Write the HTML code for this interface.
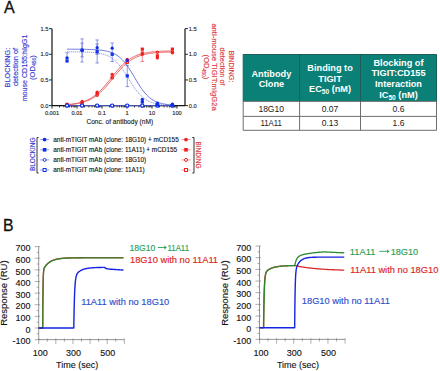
<!DOCTYPE html>
<html><head><meta charset="utf-8"><style>
html,body{margin:0;padding:0;background:#fff;width:440px;height:371px;overflow:hidden}
svg{display:block}
text{font-family:"Liberation Sans", sans-serif}
</style></head><body>
<svg width="440" height="371" viewBox="0 0 440 371">
<text x="4" y="12.9" font-size="16.0" fill="#111" text-anchor="start" font-weight="normal" stroke="#111" stroke-width="0.3" >A</text>
<text x="3" y="230.8" font-size="15.8" fill="#111" text-anchor="start" font-weight="normal" stroke="#111" stroke-width="0.3" >B</text>
<path d="M52.0,28.650000000000006 V106.1 M185.0,28.650000000000006 V106.1 M52.0,105.6 H185.0" stroke="#151515" stroke-width="1.2" fill="none"/>
<path d="M49.0,105.6 H52.0 M185.0,105.6 H188.0 M49.0,79.95 H52.0 M185.0,79.95 H188.0 M49.0,54.3 H52.0 M185.0,54.3 H188.0 M49.0,28.65 H52.0 M185.0,28.65 H188.0 M52,105.6 V108.6 M59.53,105.6 V107.39999999999999 M63.93,105.6 V107.39999999999999 M67.05,105.6 V107.39999999999999 M69.47,105.6 V107.39999999999999 M71.45,105.6 V107.39999999999999 M73.13,105.6 V107.39999999999999 M74.58,105.6 V107.39999999999999 M75.86,105.6 V107.39999999999999 M77,105.6 V108.6 M84.53,105.6 V107.39999999999999 M88.93,105.6 V107.39999999999999 M92.05,105.6 V107.39999999999999 M94.47,105.6 V107.39999999999999 M96.45,105.6 V107.39999999999999 M98.13,105.6 V107.39999999999999 M99.58,105.6 V107.39999999999999 M100.86,105.6 V107.39999999999999 M102,105.6 V108.6 M109.53,105.6 V107.39999999999999 M113.93,105.6 V107.39999999999999 M117.05,105.6 V107.39999999999999 M119.47,105.6 V107.39999999999999 M121.45,105.6 V107.39999999999999 M123.13,105.6 V107.39999999999999 M124.58,105.6 V107.39999999999999 M125.86,105.6 V107.39999999999999 M127,105.6 V108.6 M134.53,105.6 V107.39999999999999 M138.93,105.6 V107.39999999999999 M142.05,105.6 V107.39999999999999 M144.47,105.6 V107.39999999999999 M146.45,105.6 V107.39999999999999 M148.13,105.6 V107.39999999999999 M149.58,105.6 V107.39999999999999 M150.86,105.6 V107.39999999999999 M152,105.6 V108.6 M159.53,105.6 V107.39999999999999 M163.93,105.6 V107.39999999999999 M167.05,105.6 V107.39999999999999 M169.47,105.6 V107.39999999999999 M171.45,105.6 V107.39999999999999 M173.13,105.6 V107.39999999999999 M174.58,105.6 V107.39999999999999 M175.86,105.6 V107.39999999999999 M177,105.6 V108.6" stroke="#151515" stroke-width="0.9" fill="none"/>
<text x="48.4" y="107.6" font-size="5.7" fill="#222" text-anchor="end" font-weight="normal" stroke="#222" stroke-width="0.12" >0.0</text>
<text x="188.8" y="107.6" font-size="5.7" fill="#222" text-anchor="start" font-weight="normal" stroke="#222" stroke-width="0.12" >0.0</text>
<text x="48.4" y="81.95" font-size="5.7" fill="#222" text-anchor="end" font-weight="normal" stroke="#222" stroke-width="0.12" >0.5</text>
<text x="188.8" y="81.95" font-size="5.7" fill="#222" text-anchor="start" font-weight="normal" stroke="#222" stroke-width="0.12" >0.5</text>
<text x="48.4" y="56.3" font-size="5.7" fill="#222" text-anchor="end" font-weight="normal" stroke="#222" stroke-width="0.12" >1.0</text>
<text x="188.8" y="56.3" font-size="5.7" fill="#222" text-anchor="start" font-weight="normal" stroke="#222" stroke-width="0.12" >1.0</text>
<text x="48.4" y="30.65" font-size="5.7" fill="#222" text-anchor="end" font-weight="normal" stroke="#222" stroke-width="0.12" >1.5</text>
<text x="188.8" y="30.65" font-size="5.7" fill="#222" text-anchor="start" font-weight="normal" stroke="#222" stroke-width="0.12" >1.5</text>
<text x="52" y="114.9" font-size="5.7" fill="#222" text-anchor="middle" font-weight="normal" stroke="#222" stroke-width="0.12" >0.001</text>
<text x="77" y="114.9" font-size="5.7" fill="#222" text-anchor="middle" font-weight="normal" stroke="#222" stroke-width="0.12" >0.01</text>
<text x="102" y="114.9" font-size="5.7" fill="#222" text-anchor="middle" font-weight="normal" stroke="#222" stroke-width="0.12" >0.1</text>
<text x="127" y="114.9" font-size="5.7" fill="#222" text-anchor="middle" font-weight="normal" stroke="#222" stroke-width="0.12" >1</text>
<text x="152" y="114.9" font-size="5.7" fill="#222" text-anchor="middle" font-weight="normal" stroke="#222" stroke-width="0.12" >10</text>
<text x="177" y="114.9" font-size="5.7" fill="#222" text-anchor="middle" font-weight="normal" stroke="#222" stroke-width="0.12" >100</text>
<text x="119.8" y="124.4" font-size="6.6" fill="#222" text-anchor="middle" font-weight="normal" stroke="#222" stroke-width="0.12" >Conc. of antibody (nM)</text>
<text transform="translate(9.6,67.6) rotate(-90)" font-size="7.3" fill="#3b3bd0" stroke="#3b3bd0" stroke-width="0.15" text-anchor="middle">BLOCKING:</text>
<text transform="translate(17.8,67.0) rotate(-90)" font-size="7.4" fill="#3b3bd0" stroke="#3b3bd0" stroke-width="0.15" text-anchor="middle">detection of</text>
<text transform="translate(26.5,68.0) rotate(-90)" font-size="7.1" fill="#3b3bd0" stroke="#3b3bd0" stroke-width="0.15" text-anchor="middle">mouse CD155:hIgG1</text>
<text transform="translate(34.5,67.6) rotate(-90)" font-size="7.6" fill="#3b3bd0" stroke="#3b3bd0" stroke-width="0.15" text-anchor="middle">(OD<tspan font-size="5" dy="1.5">450</tspan><tspan dy="-1.5">)</tspan></text>
<text transform="translate(228.5,66.4) rotate(90)" font-size="7.2" fill="#dc3a3a" stroke="#dc3a3a" stroke-width="0.15" text-anchor="middle">BINDING:</text>
<text transform="translate(220.3,66.6) rotate(90)" font-size="7.35" fill="#dc3a3a" stroke="#dc3a3a" stroke-width="0.15" text-anchor="middle">detection of</text>
<text transform="translate(211.9,67.0) rotate(90)" font-size="7.6" fill="#dc3a3a" stroke="#dc3a3a" stroke-width="0.15" text-anchor="middle">anti-mouse TIGIT:mIgG2a</text>
<text transform="translate(203.6,67.0) rotate(90)" font-size="7.6" fill="#dc3a3a" stroke="#dc3a3a" stroke-width="0.15" text-anchor="middle">(OD<tspan font-size="5" dy="1.5">450</tspan><tspan dy="-1.5">)</tspan></text>
<path d="M67.05,49.19 L67.93,49.19 L68.80,49.19 L69.68,49.19 L70.55,49.20 L71.43,49.20 L72.31,49.20 L73.18,49.21 L74.06,49.21 L74.93,49.21 L75.81,49.22 L76.69,49.23 L77.56,49.23 L78.44,49.24 L79.31,49.25 L80.19,49.25 L81.07,49.26 L81.94,49.27 L82.82,49.29 L83.69,49.30 L84.57,49.31 L85.44,49.33 L86.32,49.35 L87.20,49.36 L88.07,49.39 L88.95,49.41 L89.82,49.44 L90.70,49.47 L91.58,49.50 L92.45,49.53 L93.33,49.57 L94.20,49.62 L95.08,49.67 L95.95,49.72 L96.83,49.78 L97.71,49.85 L98.58,49.92 L99.46,50.00 L100.33,50.10 L101.21,50.20 L102.09,50.31 L102.96,50.43 L103.84,50.57 L104.71,50.72 L105.59,50.88 L106.47,51.06 L107.34,51.27 L108.22,51.49 L109.09,51.73 L109.97,52.00 L110.84,52.30 L111.72,52.62 L112.60,52.98 L113.47,53.37 L114.35,53.80 L115.22,54.26 L116.10,54.77 L116.98,55.32 L117.85,55.92 L118.73,56.57 L119.60,57.27 L120.48,58.02 L121.35,58.83 L122.23,59.70 L123.11,60.63 L123.98,61.62 L124.86,62.66 L125.73,63.77 L126.61,64.93 L127.49,66.15 L128.36,67.42 L129.24,68.74 L130.11,70.10 L130.99,71.50 L131.87,72.93 L132.74,74.38 L133.62,75.85 L134.49,77.33 L135.37,78.81 L136.24,80.28 L137.12,81.73 L138.00,83.16 L138.87,84.56 L139.75,85.93 L140.62,87.25 L141.50,88.52 L142.38,89.75 L143.25,90.91 L144.13,92.03 L145.00,93.08 L145.88,94.07 L146.75,95.00 L147.63,95.87 L148.51,96.69 L149.38,97.45 L150.26,98.15 L151.13,98.81 L152.01,99.41 L152.89,99.96 L153.76,100.47 L154.64,100.94 L155.51,101.37 L156.39,101.76 L157.26,102.12 L158.14,102.45 L159.02,102.75 L159.89,103.02 L160.77,103.26 L161.64,103.49 L162.52,103.69 L163.40,103.88 L164.27,104.04 L165.15,104.19 L166.02,104.33 L166.90,104.45 L167.78,104.57 L168.65,104.67 L169.53,104.76 L170.40,104.84 L171.28,104.92 L172.15,104.98" stroke="#5462d6" stroke-width="0.9" fill="none"/>
<path d="M67.05,51.77 L67.93,51.77 L68.80,51.78 L69.68,51.78 L70.55,51.79 L71.43,51.79 L72.31,51.80 L73.18,51.81 L74.06,51.81 L74.93,51.82 L75.81,51.83 L76.69,51.84 L77.56,51.86 L78.44,51.87 L79.31,51.88 L80.19,51.90 L81.07,51.92 L81.94,51.94 L82.82,51.96 L83.69,51.99 L84.57,52.01 L85.44,52.04 L86.32,52.08 L87.20,52.11 L88.07,52.16 L88.95,52.20 L89.82,52.25 L90.70,52.31 L91.58,52.37 L92.45,52.44 L93.33,52.52 L94.20,52.61 L95.08,52.70 L95.95,52.80 L96.83,52.92 L97.71,53.05 L98.58,53.19 L99.46,53.35 L100.33,53.52 L101.21,53.71 L102.09,53.92 L102.96,54.15 L103.84,54.40 L104.71,54.68 L105.59,54.99 L106.47,55.32 L107.34,55.69 L108.22,56.09 L109.09,56.53 L109.97,57.01 L110.84,57.53 L111.72,58.09 L112.60,58.70 L113.47,59.37 L114.35,60.08 L115.22,60.85 L116.10,61.67 L116.98,62.55 L117.85,63.48 L118.73,64.47 L119.60,65.52 L120.48,66.62 L121.35,67.78 L122.23,68.98 L123.11,70.24 L123.98,71.53 L124.86,72.86 L125.73,74.22 L126.61,75.61 L127.49,77.01 L128.36,78.42 L129.24,79.83 L130.11,81.23 L130.99,82.62 L131.87,83.99 L132.74,85.34 L133.62,86.64 L134.49,87.91 L135.37,89.13 L136.24,90.31 L137.12,91.43 L138.00,92.50 L138.87,93.51 L139.75,94.46 L140.62,95.36 L141.50,96.20 L142.38,96.99 L143.25,97.72 L144.13,98.40 L145.00,99.03 L145.88,99.61 L146.75,100.15 L147.63,100.64 L148.51,101.09 L149.38,101.51 L150.26,101.89 L151.13,102.23 L152.01,102.55 L152.89,102.84 L153.76,103.10 L154.64,103.34 L155.51,103.55 L156.39,103.75 L157.26,103.93 L158.14,104.09 L159.02,104.24 L159.89,104.37 L160.77,104.49 L161.64,104.60 L162.52,104.70 L163.40,104.79 L164.27,104.87 L165.15,104.94 L166.02,105.00 L166.90,105.06 L167.78,105.11 L168.65,105.16 L169.53,105.21 L170.40,105.24 L171.28,105.28 L172.15,105.31" stroke="#5462d6" stroke-width="0.7" fill="none" stroke-dasharray="1.2,0.8"/>
<path d="M67.05149978319906,105.6 H172.1544993495972" stroke="#5462d6" stroke-width="0.9" fill="none"/>
<path d="M67.05,104.66 L67.93,104.58 L68.80,104.50 L69.68,104.41 L70.55,104.31 L71.43,104.21 L72.31,104.09 L73.18,103.97 L74.06,103.84 L74.93,103.70 L75.81,103.54 L76.69,103.38 L77.56,103.20 L78.44,103.00 L79.31,102.80 L80.19,102.57 L81.07,102.34 L81.94,102.08 L82.82,101.80 L83.69,101.51 L84.57,101.19 L85.44,100.85 L86.32,100.49 L87.20,100.11 L88.07,99.69 L88.95,99.26 L89.82,98.79 L90.70,98.29 L91.58,97.77 L92.45,97.21 L93.33,96.62 L94.20,96.00 L95.08,95.34 L95.95,94.65 L96.83,93.93 L97.71,93.17 L98.58,92.38 L99.46,91.55 L100.33,90.69 L101.21,89.80 L102.09,88.87 L102.96,87.92 L103.84,86.94 L104.71,85.94 L105.59,84.91 L106.47,83.86 L107.34,82.79 L108.22,81.71 L109.09,80.61 L109.97,79.51 L110.84,78.41 L111.72,77.30 L112.60,76.20 L113.47,75.10 L114.35,74.01 L115.22,72.94 L116.10,71.88 L116.98,70.84 L117.85,69.82 L118.73,68.83 L119.60,67.86 L120.48,66.93 L121.35,66.02 L122.23,65.15 L123.11,64.30 L123.98,63.50 L124.86,62.72 L125.73,61.98 L126.61,61.28 L127.49,60.61 L128.36,59.97 L129.24,59.36 L130.11,58.79 L130.99,58.25 L131.87,57.74 L132.74,57.26 L133.62,56.81 L134.49,56.39 L135.37,55.99 L136.24,55.62 L137.12,55.27 L138.00,54.94 L138.87,54.64 L139.75,54.35 L140.62,54.09 L141.50,53.84 L142.38,53.61 L143.25,53.40 L144.13,53.20 L145.00,53.01 L145.88,52.84 L146.75,52.68 L147.63,52.53 L148.51,52.40 L149.38,52.27 L150.26,52.15 L151.13,52.04 L152.01,51.94 L152.89,51.85 L153.76,51.76 L154.64,51.68 L155.51,51.61 L156.39,51.54 L157.26,51.48 L158.14,51.42 L159.02,51.36 L159.89,51.31 L160.77,51.27 L161.64,51.22 L162.52,51.18 L163.40,51.15 L164.27,51.11 L165.15,51.08 L166.02,51.05 L166.90,51.03 L167.78,51.00 L168.65,50.98 L169.53,50.96 L170.40,50.94 L171.28,50.92 L172.15,50.91" stroke="#e65050" stroke-width="0.9" fill="none"/>
<path d="M67.05,104.80 L67.93,104.73 L68.80,104.66 L69.68,104.58 L70.55,104.50 L71.43,104.41 L72.31,104.31 L73.18,104.21 L74.06,104.09 L74.93,103.97 L75.81,103.84 L76.69,103.70 L77.56,103.54 L78.44,103.38 L79.31,103.20 L80.19,103.00 L81.07,102.80 L81.94,102.58 L82.82,102.34 L83.69,102.08 L84.57,101.81 L85.44,101.51 L86.32,101.20 L87.20,100.86 L88.07,100.50 L88.95,100.11 L89.82,99.70 L90.70,99.27 L91.58,98.80 L92.45,98.31 L93.33,97.78 L94.20,97.23 L95.08,96.64 L95.95,96.02 L96.83,95.37 L97.71,94.69 L98.58,93.97 L99.46,93.21 L100.33,92.43 L101.21,91.61 L102.09,90.76 L102.96,89.87 L103.84,88.96 L104.71,88.02 L105.59,87.05 L106.47,86.06 L107.34,85.04 L108.22,84.01 L109.09,82.96 L109.97,81.89 L110.84,80.82 L111.72,79.73 L112.60,78.65 L113.47,77.56 L114.35,76.48 L115.22,75.41 L116.10,74.34 L116.98,73.29 L117.85,72.26 L118.73,71.24 L119.60,70.25 L120.48,69.28 L121.35,68.34 L122.23,67.43 L123.11,66.55 L123.98,65.70 L124.86,64.88 L125.73,64.09 L126.61,63.34 L127.49,62.63 L128.36,61.94 L129.24,61.29 L130.11,60.67 L130.99,60.09 L131.87,59.53 L132.74,59.01 L133.62,58.52 L134.49,58.05 L135.37,57.62 L136.24,57.21 L137.12,56.82 L138.00,56.46 L138.87,56.13 L139.75,55.81 L140.62,55.52 L141.50,55.25 L142.38,54.99 L143.25,54.75 L144.13,54.53 L145.00,54.32 L145.88,54.13 L146.75,53.95 L147.63,53.79 L148.51,53.63 L149.38,53.49 L150.26,53.36 L151.13,53.24 L152.01,53.12 L152.89,53.02 L153.76,52.92 L154.64,52.83 L155.51,52.75 L156.39,52.67 L157.26,52.60 L158.14,52.53 L159.02,52.47 L159.89,52.42 L160.77,52.36 L161.64,52.32 L162.52,52.27 L163.40,52.23 L164.27,52.19 L165.15,52.16 L166.02,52.12 L166.90,52.09 L167.78,52.07 L168.65,52.04 L169.53,52.02 L170.40,52.00 L171.28,51.98 L172.15,51.96" stroke="#e65050" stroke-width="0.9" fill="none"/>
<path d="M67.05,52.76 V57.89 M65.35,52.76 H68.75 M65.35,57.89 H68.75" stroke="#5462d6" stroke-width="0.65" fill="none"/>
<path d="M82.1,38.91 V61.99 M80.4,38.91 H83.8 M80.4,61.99 H83.8" stroke="#5462d6" stroke-width="0.65" fill="none"/>
<path d="M82.1,43.01 V56.87 M80.4,43.01 H83.8 M80.4,56.87 H83.8" stroke="#5462d6" stroke-width="0.65" fill="none"/>
<path d="M97.15,39.94 V63.02 M95.45,39.94 H98.85 M95.45,63.02 H98.85" stroke="#5462d6" stroke-width="0.65" fill="none"/>
<path d="M97.15,44.04 V54.3 M95.45,44.04 H98.85 M95.45,54.3 H98.85" stroke="#5462d6" stroke-width="0.65" fill="none"/>
<path d="M112.21,43.01 V61.48 M110.51,43.01 H113.91 M110.51,61.48 H113.91" stroke="#5462d6" stroke-width="0.65" fill="none"/>
<path d="M127.26,65.59 V86.62 M125.56,65.59 H128.96 M125.56,86.62 H128.96" stroke="#5462d6" stroke-width="0.65" fill="none"/>
<path d="M127.26,60.46 V63.53 M125.56,60.46 H128.96 M125.56,63.53 H128.96" stroke="#e65050" stroke-width="0.65" fill="none"/>
<path d="M142.31,51.73 V61.48 M140.61,51.73 H144.01 M140.61,61.48 H144.01" stroke="#e65050" stroke-width="0.65" fill="none"/>
<rect x="65.45" y="102.97" width="3.2" height="3.2" fill="#ee2020"/>
<circle cx="67.05" cy="104.57" r="1.0499999999999998" fill="#fff" stroke="#ee2020" stroke-width="1.2"/>
<circle cx="67.05" cy="104.06" r="1.65" fill="#ee2020"/>
<rect x="80.5" y="101.44" width="3.2" height="3.2" fill="#ee2020"/>
<circle cx="82.1" cy="103.03" r="1.0499999999999998" fill="#fff" stroke="#ee2020" stroke-width="1.2"/>
<circle cx="82.1" cy="101.5" r="1.65" fill="#ee2020"/>
<rect x="95.55" y="92.71" width="3.2" height="3.2" fill="#ee2020"/>
<circle cx="97.15" cy="95.34" r="1.0499999999999998" fill="#fff" stroke="#ee2020" stroke-width="1.2"/>
<circle cx="97.15" cy="92.26" r="1.65" fill="#ee2020"/>
<rect x="110.61" y="75.78" width="3.2" height="3.2" fill="#ee2020"/>
<circle cx="112.21" cy="77.9" r="1.0499999999999998" fill="#fff" stroke="#ee2020" stroke-width="1.2"/>
<circle cx="112.21" cy="74.31" r="1.65" fill="#ee2020"/>
<rect x="125.66" y="59.88" width="3.2" height="3.2" fill="#ee2020"/>
<circle cx="127.26" cy="62.51" r="1.0499999999999998" fill="#fff" stroke="#ee2020" stroke-width="1.2"/>
<circle cx="127.26" cy="59.43" r="1.65" fill="#ee2020"/>
<rect x="140.71" y="47.57" width="3.2" height="3.2" fill="#ee2020"/>
<circle cx="142.31" cy="53.27" r="1.0499999999999998" fill="#fff" stroke="#ee2020" stroke-width="1.2"/>
<circle cx="142.31" cy="54.3" r="1.65" fill="#ee2020"/>
<rect x="155.76" y="54.24" width="3.2" height="3.2" fill="#ee2020"/>
<circle cx="157.36" cy="52.25" r="1.0499999999999998" fill="#fff" stroke="#ee2020" stroke-width="1.2"/>
<circle cx="157.36" cy="57.89" r="1.65" fill="#ee2020"/>
<rect x="170.81" y="47.57" width="3.2" height="3.2" fill="#ee2020"/>
<circle cx="172.41" cy="52.76" r="1.0499999999999998" fill="#fff" stroke="#ee2020" stroke-width="1.2"/>
<circle cx="172.41" cy="52.25" r="1.65" fill="#ee2020"/>
<rect x="65.95" y="104.5" width="2.2" height="2.2" fill="#fff" stroke="#1030e8" stroke-width="1.1"/>
<circle cx="67.05" cy="105.6" r="1.6" fill="#fff" stroke="#1030e8" stroke-width="1.2"/>
<rect x="81" y="104.5" width="2.2" height="2.2" fill="#fff" stroke="#1030e8" stroke-width="1.1"/>
<circle cx="82.1" cy="105.6" r="1.6" fill="#fff" stroke="#1030e8" stroke-width="1.2"/>
<rect x="96.05" y="104.5" width="2.2" height="2.2" fill="#fff" stroke="#1030e8" stroke-width="1.1"/>
<circle cx="97.15" cy="105.6" r="1.6" fill="#fff" stroke="#1030e8" stroke-width="1.2"/>
<rect x="111.11" y="104.5" width="2.2" height="2.2" fill="#fff" stroke="#1030e8" stroke-width="1.1"/>
<circle cx="112.21" cy="105.6" r="1.6" fill="#fff" stroke="#1030e8" stroke-width="1.2"/>
<rect x="126.16" y="104.5" width="2.2" height="2.2" fill="#fff" stroke="#1030e8" stroke-width="1.1"/>
<circle cx="127.26" cy="105.6" r="1.6" fill="#fff" stroke="#1030e8" stroke-width="1.2"/>
<rect x="141.21" y="104.5" width="2.2" height="2.2" fill="#fff" stroke="#1030e8" stroke-width="1.1"/>
<circle cx="142.31" cy="105.6" r="1.6" fill="#fff" stroke="#1030e8" stroke-width="1.2"/>
<rect x="156.26" y="104.5" width="2.2" height="2.2" fill="#fff" stroke="#1030e8" stroke-width="1.1"/>
<circle cx="157.36" cy="105.6" r="1.6" fill="#fff" stroke="#1030e8" stroke-width="1.2"/>
<rect x="171.31" y="104.5" width="2.2" height="2.2" fill="#fff" stroke="#1030e8" stroke-width="1.1"/>
<circle cx="172.41" cy="105.6" r="1.6" fill="#fff" stroke="#1030e8" stroke-width="1.2"/>
<rect x="65.45" y="59.37" width="3.2" height="3.2" fill="#1030e8"/>
<circle cx="67.05" cy="57.89" r="1.65" fill="#1030e8"/>
<rect x="80.5" y="48.6" width="3.2" height="3.2" fill="#1030e8"/>
<circle cx="82.1" cy="50.2" r="1.65" fill="#1030e8"/>
<rect x="95.55" y="50.13" width="3.2" height="3.2" fill="#1030e8"/>
<circle cx="97.15" cy="47.63" r="1.65" fill="#1030e8"/>
<rect x="110.61" y="52.7" width="3.2" height="3.2" fill="#1030e8"/>
<circle cx="112.21" cy="48.14" r="1.65" fill="#1030e8"/>
<rect x="125.66" y="74.25" width="3.2" height="3.2" fill="#1030e8"/>
<circle cx="127.26" cy="60.46" r="1.65" fill="#1030e8"/>
<rect x="140.71" y="100.41" width="3.2" height="3.2" fill="#1030e8"/>
<circle cx="142.31" cy="99.44" r="1.65" fill="#1030e8"/>
<rect x="155.76" y="102.97" width="3.2" height="3.2" fill="#1030e8"/>
<circle cx="157.36" cy="103.03" r="1.65" fill="#1030e8"/>
<rect x="170.81" y="103.49" width="3.2" height="3.2" fill="#1030e8"/>
<circle cx="172.41" cy="104.06" r="1.65" fill="#1030e8"/>
<text x="53.3" y="141.8" font-size="6.4" fill="#111" text-anchor="start" font-weight="normal" stroke="#111" stroke-width="0.12" >anti-mTIGIT mAb (clone: 18G10) + mCD155</text>
<path d="M40.1,139.6 H49.1" stroke="#5462d6" stroke-width="0.6" fill="none"/>
<circle cx="44.6" cy="139.6" r="1.9" fill="#1030e8"/>
<path d="M181.5,139.6 H190.5" stroke="#e65050" stroke-width="0.6" fill="none"/>
<circle cx="186.0" cy="139.6" r="1.9" fill="#ee2020"/>
<text x="53.3" y="152" font-size="6.4" fill="#111" text-anchor="start" font-weight="normal" stroke="#111" stroke-width="0.12" >anti-mTIGIT mAb (clone: 11A11) + mCD155</text>
<path d="M40.1,149.8 H49.1" stroke="#5462d6" stroke-width="0.6" fill="none"/>
<rect x="42.800000000000004" y="148.0" width="3.6" height="3.6" fill="#1030e8"/>
<path d="M181.5,149.8 H190.5" stroke="#e65050" stroke-width="0.6" fill="none"/>
<rect x="184.2" y="148.0" width="3.6" height="3.6" fill="#ee2020"/>
<text x="53.3" y="162.1" font-size="6.4" fill="#111" text-anchor="start" font-weight="normal" stroke="#111" stroke-width="0.12" >anti-mTIGIT mAb (clone: 18G10)</text>
<path d="M40.1,159.9 H49.1" stroke="#5462d6" stroke-width="0.6" fill="none"/>
<circle cx="44.6" cy="159.9" r="1.5" fill="#fff" stroke="#1030e8" stroke-width="1"/>
<path d="M181.5,159.9 H190.5" stroke="#e65050" stroke-width="0.6" fill="none"/>
<circle cx="186.0" cy="159.9" r="1.5" fill="#fff" stroke="#ee2020" stroke-width="1"/>
<text x="53.3" y="172.2" font-size="6.4" fill="#111" text-anchor="start" font-weight="normal" stroke="#111" stroke-width="0.12" >anti-mTIGIT mAb (clone: 11A11)</text>
<path d="M40.1,170.0 H49.1" stroke="#5462d6" stroke-width="0.6" fill="none"/>
<rect x="43.1" y="168.5" width="3" height="3" fill="#fff" stroke="#1030e8" stroke-width="1"/>
<path d="M181.5,170.0 H190.5" stroke="#e65050" stroke-width="0.6" fill="none"/>
<rect x="184.5" y="168.5" width="3" height="3" fill="#fff" stroke="#ee2020" stroke-width="1"/>
<path d="M38.6,137.5 H37 V173 H38.6 M192.3,137.5 H194 V173 H192.3" stroke="#333" stroke-width="1" fill="none"/>
<text transform="translate(34.9,154.3) rotate(-90)" font-size="6.5" fill="#3b3bd0" stroke="#3b3bd0" stroke-width="0.15" text-anchor="middle">BLOCKING</text>
<text transform="translate(196.2,155) rotate(90)" font-size="6.5" fill="#dc3a3a" stroke="#dc3a3a" stroke-width="0.15" text-anchor="middle">BINDING</text>
<path d="M38.7,246.59 V339.63 H124.3" stroke="#777" stroke-width="0.8" fill="none"/>
<path d="M34.7,339.63 H40.2 M36.7,333.81 H38.7 M34.7,328 H40.2 M36.7,322.19 H38.7 M34.7,316.37 H40.2 M36.7,310.56 H38.7 M34.7,304.74 H40.2 M36.7,298.93 H38.7 M34.7,293.11 H40.2 M36.7,287.3 H38.7 M34.7,281.48 H40.2 M36.7,275.67 H38.7 M34.7,269.85 H40.2 M36.7,264.03 H38.7 M34.7,258.22 H40.2 M36.7,252.41 H38.7 M34.7,246.59 H40.2 M38.7,338.43 V343.93 M47.26,338.43 V341.93 M55.82,338.43 V343.93 M64.38,338.43 V341.93 M72.94,338.43 V343.93 M81.5,338.43 V341.93 M90.06,338.43 V343.93 M98.62,338.43 V341.93 M107.18,338.43 V343.93 M115.74,338.43 V341.93 M124.3,338.43 V343.93" stroke="#777" stroke-width="0.6" fill="none"/>
<text x="30.5" y="344.33" font-size="9.0" fill="#111" text-anchor="end" font-weight="normal" stroke="#111" stroke-width="0.12" >-100</text>
<text x="30.5" y="332.7" font-size="9.0" fill="#111" text-anchor="end" font-weight="normal" stroke="#111" stroke-width="0.12" >0</text>
<text x="30.5" y="321.07" font-size="9.0" fill="#111" text-anchor="end" font-weight="normal" stroke="#111" stroke-width="0.12" >100</text>
<text x="30.5" y="309.44" font-size="9.0" fill="#111" text-anchor="end" font-weight="normal" stroke="#111" stroke-width="0.12" >200</text>
<text x="30.5" y="297.81" font-size="9.0" fill="#111" text-anchor="end" font-weight="normal" stroke="#111" stroke-width="0.12" >300</text>
<text x="30.5" y="286.18" font-size="9.0" fill="#111" text-anchor="end" font-weight="normal" stroke="#111" stroke-width="0.12" >400</text>
<text x="30.5" y="274.55" font-size="9.0" fill="#111" text-anchor="end" font-weight="normal" stroke="#111" stroke-width="0.12" >500</text>
<text x="30.5" y="262.92" font-size="9.0" fill="#111" text-anchor="end" font-weight="normal" stroke="#111" stroke-width="0.12" >600</text>
<text x="30.5" y="251.29" font-size="9.0" fill="#111" text-anchor="end" font-weight="normal" stroke="#111" stroke-width="0.12" >700</text>
<text x="40.2" y="356" font-size="9.0" fill="#111" text-anchor="middle" font-weight="normal" stroke="#111" stroke-width="0.12" >100</text>
<text x="73.44" y="356" font-size="9.0" fill="#111" text-anchor="middle" font-weight="normal" stroke="#111" stroke-width="0.12" >300</text>
<text x="107.68" y="356" font-size="9.0" fill="#111" text-anchor="middle" font-weight="normal" stroke="#111" stroke-width="0.12" >500</text>
<text x="77.2" y="367.6" font-size="9" fill="#111" text-anchor="middle" font-weight="normal" stroke="#111" stroke-width="0.12" >Time (sec)</text>
<text transform="translate(7.3,293.1) rotate(-90)" font-size="9.5" fill="#111" stroke="#111" stroke-width="0.12" text-anchor="middle">Response (RU)</text>
<path d="M38.70,328.00 L42.64,328.00 L42.68,320.04 L42.72,313.16 L42.77,307.21 L42.81,302.07 L42.85,297.61 L42.89,293.76 L42.94,290.42 L42.98,287.53 L43.02,285.02 L43.07,282.85 L43.11,280.96 L43.15,279.32 L43.19,277.89 L43.24,276.65 L43.28,275.57 L43.32,274.63 L43.37,273.81 L43.41,273.09 L43.45,272.45 L43.49,271.90 L43.54,271.41 L43.58,270.98 L43.62,270.59 L43.66,270.25 L43.84,269.22 L44.01,268.53 L44.18,268.03 L44.35,267.64 L44.52,267.31 L44.69,267.02 L44.86,266.76 L45.03,266.51 L45.21,266.28 L45.38,266.05 L45.55,265.83 L45.72,265.62 L45.89,265.41 L46.06,265.21 L46.23,265.01 L46.40,264.82 L46.58,264.64 L46.75,264.46 L46.92,264.28 L47.09,264.11 L47.26,263.94 L47.43,263.78 L47.60,263.62 L47.77,263.47 L47.94,263.32 L48.12,263.17 L48.29,263.03 L48.46,262.89 L48.63,262.75 L48.80,262.62 L48.97,262.49 L49.14,262.37 L49.31,262.25 L49.49,262.13 L50.34,261.58 L51.20,261.10 L52.05,260.68 L52.91,260.31 L53.77,259.99 L54.62,259.71 L55.48,259.46 L56.33,259.24 L57.19,259.05 L58.05,258.88 L58.90,258.74 L59.76,258.61 L60.61,258.49 L61.47,258.40 L62.33,258.31 L63.18,258.23 L64.04,258.17 L64.89,258.11 L65.75,258.06 L66.61,258.01 L67.46,257.97 L68.32,257.94 L69.17,257.91 L70.03,257.88 L70.89,257.86 L71.74,257.84 L72.60,257.82 L73.45,257.81 L74.31,257.79 L75.17,257.78 L76.02,257.77 L76.88,257.76 L77.73,257.75 L78.59,257.75 L79.45,257.74 L80.30,257.74 L81.16,257.73 L82.01,257.73 L82.87,257.72 L83.73,257.72 L84.58,257.72 L85.44,257.71 L86.29,257.71 L87.15,257.71 L88.01,257.71 L88.86,257.71 L89.72,257.71 L90.57,257.70 L91.43,257.70 L92.29,257.70 L93.14,257.70 L94.00,257.70 L94.85,257.70 L95.71,257.70 L96.57,257.70 L97.42,257.70 L98.28,257.70 L99.13,257.70 L99.99,257.70 L100.85,257.70 L101.70,257.70 L102.56,257.70 L103.41,257.70 L104.27,257.70 L105.13,257.70 L105.98,257.70 L106.84,257.70 L107.69,257.70 L108.55,257.70 L109.41,257.70 L110.26,257.70 L111.12,257.70 L111.97,257.70 L112.83,257.70 L113.69,257.70 L114.54,257.70 L115.40,257.70 L116.25,257.70 L117.11,257.70 L117.97,257.70 L118.82,257.70 L119.68,257.70 L120.53,257.70 L121.39,257.70 L122.25,257.70 L123.10,257.70 L123.44,257.70" stroke="#dc2a2a" stroke-width="1.3" fill="none" stroke-linejoin="round"/>
<path d="M38.70,328.00 L42.77,328.00 L42.82,320.04 L42.86,313.17 L42.90,307.22 L42.95,302.07 L42.99,297.62 L43.03,293.76 L43.07,290.43 L43.12,287.53 L43.16,285.03 L43.20,282.85 L43.25,280.97 L43.29,279.33 L43.33,277.90 L43.37,276.66 L43.42,275.58 L43.46,274.64 L43.50,273.82 L43.54,273.10 L43.59,272.46 L43.63,271.91 L43.67,271.42 L43.72,270.99 L43.76,270.61 L43.80,270.27 L43.97,269.24 L44.14,268.55 L44.32,268.05 L44.49,267.66 L44.66,267.34 L44.83,267.05 L45.00,266.79 L45.17,266.54 L45.34,266.31 L45.51,266.08 L45.68,265.86 L45.86,265.65 L46.03,265.45 L46.20,265.25 L46.37,265.05 L46.54,264.86 L46.71,264.68 L46.88,264.50 L47.05,264.33 L47.23,264.16 L47.40,263.99 L47.57,263.83 L47.74,263.67 L47.91,263.52 L48.08,263.37 L48.25,263.22 L48.42,263.08 L48.60,262.94 L48.77,262.81 L48.94,262.68 L49.11,262.55 L49.28,262.43 L49.45,262.31 L49.62,262.19 L50.48,261.65 L51.33,261.17 L52.19,260.75 L53.05,260.39 L53.90,260.06 L54.76,259.78 L55.61,259.54 L56.47,259.32 L57.33,259.13 L58.18,258.97 L59.04,258.82 L59.89,258.69 L60.75,258.58 L61.61,258.48 L62.46,258.40 L63.32,258.32 L64.17,258.26 L65.03,258.20 L65.89,258.15 L66.74,258.10 L67.60,258.07 L68.45,258.03 L69.31,258.00 L70.17,257.98 L71.02,257.95 L71.88,257.93 L72.73,257.91 L73.59,257.90 L74.45,257.89 L75.30,257.87 L76.16,257.86 L77.01,257.85 L77.87,257.85 L78.73,257.84 L79.58,257.83 L80.44,257.83 L81.29,257.82 L82.15,257.82 L83.01,257.82 L83.86,257.81 L84.72,257.81 L85.57,257.81 L86.43,257.80 L87.29,257.80 L88.14,257.80 L89.00,257.80 L89.85,257.80 L90.71,257.80 L91.57,257.80 L92.42,257.80 L93.28,257.79 L94.13,257.79 L94.99,257.79 L95.85,257.79 L96.70,257.79 L97.56,257.79 L98.41,257.79 L99.27,257.79 L100.13,257.79 L100.98,257.79 L101.84,257.79 L102.69,257.79 L103.55,257.79 L104.41,257.79 L105.26,257.79 L106.12,257.79 L106.97,257.79 L107.83,257.79 L108.69,257.79 L109.54,257.79 L110.40,257.79 L111.25,257.79 L112.11,257.79 L112.97,257.79 L113.82,257.79 L114.68,257.79 L115.53,257.79 L116.39,257.79 L117.25,257.79 L118.10,257.79 L118.96,257.79 L119.81,257.79 L120.67,257.79 L121.53,257.79 L122.38,257.79 L123.24,257.79 L123.44,257.79" stroke="#2b8a30" stroke-width="1.3" fill="none" stroke-linejoin="round"/>
<path d="M38.70,328.00 L73.80,328.00 L73.84,325.17 L73.88,322.49 L73.92,319.96 L73.97,317.56 L74.01,315.28 L74.05,313.13 L74.10,311.10 L74.14,309.17 L74.18,307.34 L74.22,305.61 L74.27,303.97 L74.31,302.42 L74.35,300.95 L74.40,299.56 L74.44,298.24 L74.48,296.99 L74.52,295.80 L74.57,294.68 L74.61,293.61 L74.65,292.60 L74.69,291.64 L74.74,290.73 L74.78,289.87 L74.82,289.05 L74.99,286.18 L75.17,283.84 L75.34,281.93 L75.51,280.37 L75.68,279.08 L75.85,278.01 L76.02,277.12 L76.19,276.38 L76.36,275.75 L76.54,275.21 L76.71,274.75 L76.88,274.35 L77.05,274.00 L77.22,273.68 L77.39,273.41 L77.56,273.16 L77.73,272.93 L77.90,272.72 L78.08,272.53 L78.25,272.35 L78.42,272.18 L78.59,272.02 L78.76,271.87 L78.93,271.73 L79.10,271.59 L79.27,271.46 L79.45,271.34 L79.62,271.22 L79.79,271.11 L79.96,270.99 L80.13,270.89 L80.30,270.78 L80.47,270.68 L80.64,270.59 L81.50,270.15 L82.36,269.77 L83.21,269.44 L84.07,269.15 L84.92,268.91 L85.78,268.70 L86.64,268.51 L87.49,268.36 L88.35,268.22 L89.20,268.10 L90.06,268.00 L90.92,267.91 L91.77,267.83 L92.63,267.76 L93.48,267.71 L94.34,267.66 L95.20,267.61 L96.05,267.58 L96.91,267.54 L97.76,267.52 L98.62,267.49 L99.48,267.47 L100.33,267.45 L101.19,267.44 L102.04,267.42 L102.90,267.41 L103.76,267.40 L104.61,267.39 L105.47,268.10 L106.32,268.51 L107.18,268.75 L108.04,268.91 L108.89,269.02 L109.75,269.11 L110.60,269.18 L111.46,269.25 L112.32,269.31 L113.17,269.37 L114.03,269.43 L114.88,269.49 L115.74,269.55 L116.60,269.60 L117.45,269.66 L118.31,269.72 L119.16,269.78 L120.02,269.84 L120.88,269.89 L121.73,269.95 L122.59,270.01 L123.44,270.07" stroke="#1424e0" stroke-width="1.4" fill="none" stroke-linejoin="round"/>
<text x="129.4" y="250.8" font-size="9" fill="#2aa055" stroke="#2aa055" stroke-width="0.15" textLength="25.9" lengthAdjust="spacingAndGlyphs">18G10</text>
<path d="M157.8,247.5 H165.3" stroke="#2aa055" stroke-width="0.9"/>
<path d="M164.4,245.6 L166.8,247.5 L164.4,249.4 Z" fill="#2aa055"/>
<text x="167.5" y="250.8" font-size="9" fill="#2aa055" stroke="#2aa055" stroke-width="0.15" textLength="21.5" lengthAdjust="spacingAndGlyphs">11A11</text>
<text x="130" y="263.2" font-size="9.3" fill="#dc2626" text-anchor="start" font-weight="normal" stroke="#dc2626" stroke-width="0.15" >18G10 with no 11A11</text>
<text x="81.2" y="304.9" font-size="9.3" fill="#3050cc" text-anchor="start" font-weight="normal" stroke="#3050cc" stroke-width="0.15" >11A11 with no 18G10</text>
<path d="M259.5,246.01 V339.37 H345.1" stroke="#777" stroke-width="0.8" fill="none"/>
<path d="M255.5,339.37 H261 M257.5,333.53 H259.5 M255.5,327.7 H261 M257.5,321.87 H259.5 M255.5,316.03 H261 M257.5,310.19 H259.5 M255.5,304.36 H261 M257.5,298.52 H259.5 M255.5,292.69 H261 M257.5,286.86 H259.5 M255.5,281.02 H261 M257.5,275.19 H259.5 M255.5,269.35 H261 M257.5,263.51 H259.5 M255.5,257.68 H261 M257.5,251.84 H259.5 M255.5,246.01 H261 M259.5,338.17 V343.67 M268.06,338.17 V341.67 M276.62,338.17 V343.67 M285.18,338.17 V341.67 M293.74,338.17 V343.67 M302.3,338.17 V341.67 M310.86,338.17 V343.67 M319.42,338.17 V341.67 M327.98,338.17 V343.67 M336.54,338.17 V341.67 M345.1,338.17 V343.67" stroke="#777" stroke-width="0.6" fill="none"/>
<text x="251.3" y="344.07" font-size="9.0" fill="#111" text-anchor="end" font-weight="normal" stroke="#111" stroke-width="0.12" >-100</text>
<text x="251.3" y="332.4" font-size="9.0" fill="#111" text-anchor="end" font-weight="normal" stroke="#111" stroke-width="0.12" >0</text>
<text x="251.3" y="320.73" font-size="9.0" fill="#111" text-anchor="end" font-weight="normal" stroke="#111" stroke-width="0.12" >100</text>
<text x="251.3" y="309.06" font-size="9.0" fill="#111" text-anchor="end" font-weight="normal" stroke="#111" stroke-width="0.12" >200</text>
<text x="251.3" y="297.39" font-size="9.0" fill="#111" text-anchor="end" font-weight="normal" stroke="#111" stroke-width="0.12" >300</text>
<text x="251.3" y="285.72" font-size="9.0" fill="#111" text-anchor="end" font-weight="normal" stroke="#111" stroke-width="0.12" >400</text>
<text x="251.3" y="274.05" font-size="9.0" fill="#111" text-anchor="end" font-weight="normal" stroke="#111" stroke-width="0.12" >500</text>
<text x="251.3" y="262.38" font-size="9.0" fill="#111" text-anchor="end" font-weight="normal" stroke="#111" stroke-width="0.12" >600</text>
<text x="251.3" y="250.71" font-size="9.0" fill="#111" text-anchor="end" font-weight="normal" stroke="#111" stroke-width="0.12" >700</text>
<text x="261" y="356" font-size="9.0" fill="#111" text-anchor="middle" font-weight="normal" stroke="#111" stroke-width="0.12" >100</text>
<text x="294.24" y="356" font-size="9.0" fill="#111" text-anchor="middle" font-weight="normal" stroke="#111" stroke-width="0.12" >300</text>
<text x="328.48" y="356" font-size="9.0" fill="#111" text-anchor="middle" font-weight="normal" stroke="#111" stroke-width="0.12" >500</text>
<text x="298" y="367.6" font-size="9" fill="#111" text-anchor="middle" font-weight="normal" stroke="#111" stroke-width="0.12" >Time (sec)</text>
<text transform="translate(228.1,293.1) rotate(-90)" font-size="9.5" fill="#111" stroke="#111" stroke-width="0.12" text-anchor="middle">Response (RU)</text>
<path d="M259.50,327.70 L263.47,327.70 L263.51,324.12 L263.56,320.77 L263.60,317.65 L263.64,314.72 L263.69,311.98 L263.73,309.42 L263.77,307.03 L263.81,304.79 L263.86,302.69 L263.90,300.73 L263.94,298.90 L263.99,297.18 L264.03,295.58 L264.07,294.07 L264.11,292.66 L264.16,291.35 L264.20,290.11 L264.24,288.96 L264.29,287.87 L264.33,286.86 L264.37,285.91 L264.41,285.02 L264.46,284.18 L264.50,283.40 L264.54,282.67 L264.71,280.16 L264.88,278.21 L265.06,276.69 L265.23,275.49 L265.40,274.55 L265.57,273.79 L265.74,273.18 L265.91,272.68 L266.08,272.27 L266.25,271.92 L266.43,271.62 L266.60,271.37 L266.77,271.15 L266.94,270.95 L267.11,270.77 L267.28,270.60 L267.45,270.45 L267.62,270.31 L267.79,270.17 L267.97,270.04 L268.14,269.92 L268.31,269.81 L268.48,269.70 L268.65,269.59 L268.82,269.48 L268.99,269.38 L269.16,269.29 L269.34,269.19 L269.51,269.10 L269.68,269.01 L269.85,268.92 L270.02,268.84 L270.19,268.75 L270.36,268.67 L271.22,268.30 L272.07,267.97 L272.93,267.67 L273.79,267.42 L274.64,267.19 L275.50,266.99 L276.35,266.81 L277.21,266.65 L278.07,266.51 L278.92,266.39 L279.78,266.28 L280.63,266.19 L281.49,266.10 L282.35,266.03 L283.20,265.96 L284.06,265.90 L284.91,265.85 L285.77,265.81 L286.63,265.77 L287.48,265.73 L288.34,265.70 L289.19,265.67 L290.05,265.65 L290.91,265.63 L291.76,265.61 L292.62,265.59 L293.47,265.58 L294.33,265.56 L295.19,265.65 L296.04,265.83 L296.90,266.00 L297.75,266.17 L298.61,266.34 L299.47,266.49 L300.32,266.64 L301.18,266.79 L302.03,266.93 L302.89,267.07 L303.75,267.20 L304.60,267.32 L305.46,267.45 L306.31,267.56 L307.17,267.68 L308.03,267.79 L308.88,267.89 L309.74,268.00 L310.59,268.10 L311.45,268.19 L312.31,268.28 L313.16,268.37 L314.02,268.46 L314.87,268.54 L315.73,268.62 L316.59,268.70 L317.44,268.77 L318.30,268.84 L319.15,268.91 L320.01,268.98 L320.87,269.04 L321.72,269.10 L322.58,269.16 L323.43,269.22 L324.29,269.28 L325.15,269.33 L326.00,269.38 L326.86,269.43 L327.71,269.48 L328.57,269.53 L329.43,269.57 L330.28,269.62 L331.14,269.66 L331.99,269.70 L332.85,269.74 L333.71,269.77 L334.56,269.81 L335.42,269.85 L336.27,269.88 L337.13,269.91 L337.99,269.94 L338.84,269.97 L339.70,270.00 L340.55,270.03 L341.41,270.06 L342.27,270.08 L343.12,270.11 L343.98,270.13 L344.24,270.14" stroke="#dc2a2a" stroke-width="1.3" fill="none" stroke-linejoin="round"/>
<path d="M259.50,327.70 L263.69,327.70 L263.74,324.12 L263.78,320.77 L263.82,317.65 L263.87,314.72 L263.91,311.98 L263.95,309.42 L263.99,307.03 L264.04,304.79 L264.08,302.69 L264.12,300.73 L264.17,298.90 L264.21,297.18 L264.25,295.58 L264.29,294.07 L264.34,292.66 L264.38,291.35 L264.42,290.11 L264.46,288.96 L264.51,287.87 L264.55,286.86 L264.59,285.91 L264.64,285.02 L264.68,284.18 L264.72,283.40 L264.89,280.73 L265.06,278.65 L265.24,277.04 L265.41,275.77 L265.58,274.76 L265.75,273.96 L265.92,273.32 L266.09,272.79 L266.26,272.36 L266.43,272.00 L266.60,271.69 L266.78,271.43 L266.95,271.20 L267.12,270.99 L267.29,270.81 L267.46,270.64 L267.63,270.49 L267.80,270.34 L267.97,270.20 L268.15,270.08 L268.32,269.95 L268.49,269.84 L268.66,269.72 L268.83,269.61 L269.00,269.51 L269.17,269.41 L269.34,269.31 L269.52,269.21 L269.69,269.12 L269.86,269.03 L270.03,268.94 L270.20,268.86 L270.37,268.77 L270.54,268.69 L271.40,268.31 L272.25,267.98 L273.11,267.69 L273.97,267.43 L274.82,267.20 L275.68,267.00 L276.53,266.82 L277.39,266.66 L278.25,266.52 L279.10,266.40 L279.96,266.29 L280.81,266.19 L281.67,266.11 L282.53,266.03 L283.38,265.97 L284.24,265.91 L285.09,265.86 L285.95,265.81 L286.81,265.77 L287.66,265.73 L288.52,265.70 L289.37,265.67 L290.23,265.65 L291.09,265.63 L291.94,265.61 L292.80,265.59 L293.65,265.58 L294.51,265.56 L295.37,262.94 L296.22,260.05 L297.08,258.29 L297.93,257.18 L298.79,256.43 L299.65,255.90 L300.50,255.50 L301.36,255.18 L302.21,254.91 L303.07,254.67 L303.93,254.45 L304.78,254.25 L305.64,254.07 L306.49,253.90 L307.35,253.74 L308.21,253.59 L309.06,253.44 L309.92,253.31 L310.77,253.18 L311.63,253.07 L312.49,252.95 L313.34,252.85 L314.20,252.75 L315.05,252.66 L315.91,252.57 L316.77,252.49 L317.62,252.41 L318.48,252.33 L319.33,252.26 L320.19,252.20 L321.05,252.14 L321.90,252.08 L322.76,252.02 L323.61,251.97 L324.47,251.92 L325.33,251.95 L326.18,251.99 L327.04,252.04 L327.89,252.08 L328.75,252.12 L329.61,252.16 L330.46,252.20 L331.32,252.24 L332.17,252.28 L333.03,252.32 L333.89,252.36 L334.74,252.40 L335.60,252.44 L336.45,252.49 L337.31,252.53 L338.17,252.57 L339.02,252.61 L339.88,252.65 L340.73,252.69 L341.59,252.73 L342.45,252.77 L343.30,252.81 L344.16,252.85 L344.24,252.86" stroke="#2b8a30" stroke-width="1.3" fill="none" stroke-linejoin="round"/>
<path d="M259.50,327.70 L294.68,327.70 L294.72,322.51 L294.77,317.78 L294.81,313.47 L294.85,309.54 L294.90,305.97 L294.94,302.70 L294.98,299.72 L295.02,297.01 L295.07,294.53 L295.11,292.26 L295.15,290.19 L295.20,288.30 L295.24,286.57 L295.28,284.99 L295.32,283.54 L295.37,282.21 L295.41,280.99 L295.45,279.87 L295.49,278.85 L295.54,277.90 L295.58,277.04 L295.62,276.24 L295.67,275.50 L295.71,274.82 L295.88,272.58 L296.05,270.91 L296.22,269.65 L296.39,268.65 L296.56,267.86 L296.74,267.20 L296.91,266.63 L297.08,266.14 L297.25,265.70 L297.42,265.30 L297.59,264.93 L297.76,264.59 L297.93,264.27 L298.11,263.97 L298.28,263.68 L298.45,263.41 L298.62,263.15 L298.79,262.90 L298.96,262.66 L299.13,262.43 L299.30,262.21 L299.48,262.00 L299.65,261.80 L299.82,261.61 L299.99,261.43 L300.16,261.25 L300.33,261.08 L300.50,260.92 L300.67,260.76 L300.84,260.61 L301.02,260.47 L301.19,260.33 L301.36,260.20 L301.53,260.07 L302.39,259.51 L303.24,259.06 L304.10,258.69 L304.95,258.39 L305.81,258.15 L306.67,257.95 L307.52,257.79 L308.38,257.66 L309.23,257.55 L310.09,257.47 L310.95,257.40 L311.80,257.34 L312.66,257.29 L313.51,257.26 L314.37,257.23 L315.23,257.20 L316.08,257.18 L316.94,257.17 L317.79,257.15 L318.65,257.14 L319.51,257.13 L320.36,257.13 L321.22,257.12 L322.07,257.12 L322.93,257.11 L323.79,257.11 L324.64,257.11 L325.50,257.11 L326.35,257.10 L327.21,257.10 L328.07,257.10 L328.92,257.10 L329.78,257.10 L330.63,257.10 L331.49,257.10 L332.35,257.10 L333.20,257.10 L334.06,257.10 L334.91,257.10 L335.77,257.10 L336.63,257.10 L337.48,257.10 L338.34,257.10 L339.19,257.10 L340.05,257.10 L340.91,257.10 L341.76,257.10 L342.62,257.10 L343.47,257.10 L344.24,257.10" stroke="#1424e0" stroke-width="1.4" fill="none" stroke-linejoin="round"/>
<text x="349.8" y="254.6" font-size="9" fill="#2aa055" stroke="#2aa055" stroke-width="0.15" textLength="25.6" lengthAdjust="spacingAndGlyphs">11A11</text>
<path d="M379.2,251.3 H388" stroke="#2aa055" stroke-width="0.9"/>
<path d="M387.1,249.4 L389.5,251.3 L387.1,253.2 Z" fill="#2aa055"/>
<text x="390.7" y="254.6" font-size="9" fill="#2aa055" stroke="#2aa055" stroke-width="0.15" textLength="27.4" lengthAdjust="spacingAndGlyphs">18G10</text>
<text x="350.3" y="273.2" font-size="9.3" fill="#dc2626" text-anchor="start" font-weight="normal" stroke="#dc2626" stroke-width="0.15" >11A11 with no 18G10</text>
<text x="301.8" y="304.3" font-size="9.3" fill="#3050cc" text-anchor="start" font-weight="normal" stroke="#3050cc" stroke-width="0.15" >18G10 with no 11A11</text>
<rect x="243.2" y="54.5" width="193.3" height="46.900000000000006" fill="#0a8076"/>
<rect x="243.2" y="101.4" width="193.3" height="28.900000000000006" fill="#fff"/>
<path d="M243.2,101.4 V130.3 H436.5 V101.4 M243.2,116.4 H436.5 M299.6,101.4 V130.3 M360.5,101.4 V130.3 M243.2,101.4 H436.5" stroke="#6e6e6e" stroke-width="1" fill="none"/>
<path d="M243.2,101.4 V54.5 H436.5 V101.4 M299.6,54.5 V101.4 M360.5,54.5 V101.4" stroke="#1d5e59" stroke-width="1" fill="none"/>
<text x="271.4" y="76.6" font-size="9.2" fill="#fff" text-anchor="middle" font-weight="bold" >Antibody</text>
<text x="271.4" y="87" font-size="9.2" fill="#fff" text-anchor="middle" font-weight="bold" >Clone</text>
<text x="330.05" y="71.2" font-size="9.2" fill="#fff" text-anchor="middle" font-weight="bold" >Binding to</text>
<text x="330.05" y="81.6" font-size="9.2" fill="#fff" text-anchor="middle" font-weight="bold" >TIGIT</text>
<text x="330.05" y="92" font-size="9.2" fill="#fff" text-anchor="middle" font-weight="bold" >EC<tspan font-size="6.6" dy="1.6">50</tspan><tspan dy="-1.6"> (nM)</tspan></text>
<text x="398.5" y="65.6" font-size="9.2" fill="#fff" text-anchor="middle" font-weight="bold" >Blocking of</text>
<text x="398.5" y="76.4" font-size="9.2" fill="#fff" text-anchor="middle" font-weight="bold" >TIGIT:CD155</text>
<text x="398.5" y="87.2" font-size="9.2" fill="#fff" text-anchor="middle" font-weight="bold" >Interaction</text>
<text x="398.5" y="98" font-size="9.2" fill="#fff" text-anchor="middle" font-weight="bold" >IC<tspan font-size="6.6" dy="1.6">50</tspan><tspan dy="-1.6"> (nM)</tspan></text>
<text transform="translate(271.2,112) scale(0.93,1.06)" font-size="9.2" fill="#1a1a1a" text-anchor="middle">18G10</text>
<text transform="translate(330.05,112) scale(0.93,1.06)" font-size="9.2" fill="#1a1a1a" text-anchor="middle">0.07</text>
<text transform="translate(398.5,112) scale(0.93,1.06)" font-size="9.2" fill="#1a1a1a" text-anchor="middle">0.6</text>
<text transform="translate(271.2,126.3) scale(0.93,1.06)" font-size="9.2" fill="#1a1a1a" text-anchor="middle" textLength="23" lengthAdjust="spacingAndGlyphs">11A11</text>
<text transform="translate(330.05,126.3) scale(0.93,1.06)" font-size="9.2" fill="#1a1a1a" text-anchor="middle">0.13</text>
<text transform="translate(398.5,126.3) scale(0.93,1.06)" font-size="9.2" fill="#1a1a1a" text-anchor="middle">1.6</text>
</svg>
</body></html>
